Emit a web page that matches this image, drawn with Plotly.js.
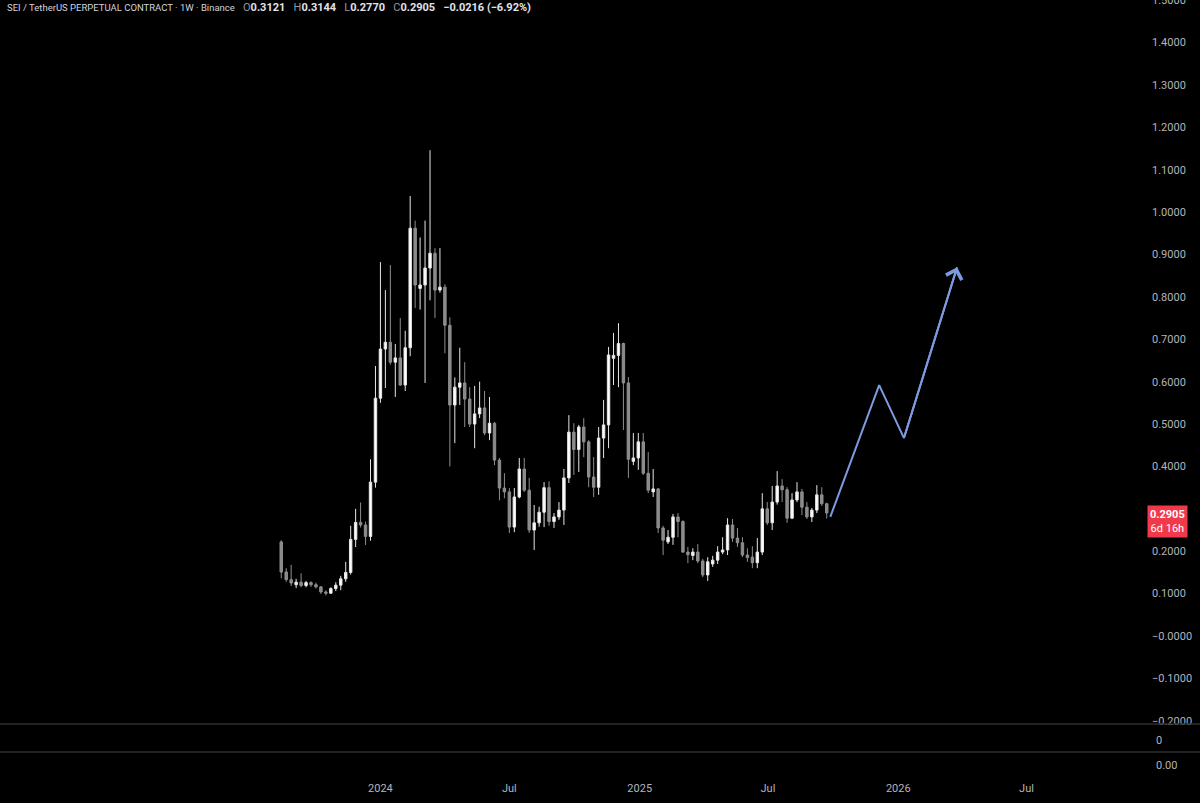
<!DOCTYPE html>
<html>
<head>
<meta charset="utf-8">
<script src="https://cdn.plot.ly/plotly-3.0.1.min.js"></script>
<style>
  html, body { margin: 0; padding: 0; background: #000000; }
  #chart { width: 1200px; height: 803px; }
</style>
</head>
<body>
<div id="chart"></div>
<script>
// ---- weekly candles (SEI/USDT perpetual, 1W) ----
const weeks = [
  '2023-08-14','2023-08-21','2023-08-28','2023-09-04','2023-09-11','2023-09-18','2023-09-25','2023-10-02','2023-10-09','2023-10-16',
  '2023-10-23','2023-10-30','2023-11-06','2023-11-13','2023-11-20','2023-11-27','2023-12-04','2023-12-11','2023-12-18','2023-12-25',
  '2024-01-01','2024-01-08','2024-01-15','2024-01-22','2024-01-29','2024-02-05','2024-02-12','2024-02-19','2024-02-26','2024-03-04',
  '2024-03-11','2024-03-18','2024-03-25','2024-04-01','2024-04-08','2024-04-15','2024-04-22','2024-04-29','2024-05-06','2024-05-13',
  '2024-05-20','2024-05-27','2024-06-03','2024-06-10','2024-06-17','2024-06-24','2024-07-01','2024-07-08','2024-07-15','2024-07-22',
  '2024-07-29','2024-08-05','2024-08-12','2024-08-19','2024-08-26','2024-09-02','2024-09-09','2024-09-16','2024-09-23','2024-09-30',
  '2024-10-07','2024-10-14','2024-10-21','2024-10-28','2024-11-04','2024-11-11','2024-11-18','2024-11-25','2024-12-02','2024-12-09',
  '2024-12-16','2024-12-23','2024-12-30','2025-01-06','2025-01-13','2025-01-20','2025-01-27','2025-02-03','2025-02-10','2025-02-17',
  '2025-02-24','2025-03-03','2025-03-10','2025-03-17','2025-03-24','2025-03-31','2025-04-07','2025-04-14','2025-04-21','2025-04-28',
  '2025-05-05','2025-05-12','2025-05-19','2025-05-26','2025-06-02','2025-06-09','2025-06-16','2025-06-23','2025-06-30','2025-07-07',
  '2025-07-14','2025-07-21','2025-07-28','2025-08-04','2025-08-11','2025-08-18','2025-08-25','2025-09-01','2025-09-08','2025-09-15',
  '2025-09-22'
];
const opens = [
  0.222,0.151,0.133,0.121,0.127,0.119,0.126,0.121,0.116,0.104,
  0.101,0.112,0.120,0.135,0.150,0.228,0.268,0.262,0.235,0.363,
  0.561,0.677,0.693,0.646,0.656,0.592,0.680,0.962,0.820,0.828,
  0.868,0.903,0.816,0.823,0.733,0.545,0.587,0.597,0.559,0.500,
  0.524,0.538,0.479,0.502,0.415,0.349,0.340,0.257,0.328,0.394,
  0.344,0.250,0.267,0.292,0.350,0.270,0.281,0.297,0.373,0.481,
  0.440,0.493,0.458,0.375,0.351,0.467,0.498,0.655,0.662,0.690,
  0.597,0.412,0.420,0.458,0.384,0.340,0.347,0.255,0.222,0.233,
  0.281,0.270,0.198,0.190,0.198,0.177,0.144,0.170,0.179,0.198,
  0.203,0.262,0.231,0.220,0.191,0.186,0.173,0.198,0.300,0.267,
  0.316,0.354,0.345,0.278,0.321,0.340,0.304,0.281,0.297,0.333,
  0.3121
];
const highs = [
  0.226,0.160,0.168,0.135,0.148,0.130,0.129,0.126,0.117,0.108,
  0.115,0.127,0.142,0.175,0.260,0.300,0.315,0.270,0.417,0.637,
  0.882,0.816,0.875,0.689,0.750,0.720,1.038,0.980,0.940,0.980,
  1.146,0.915,0.915,0.830,0.752,0.610,0.680,0.646,0.587,0.590,
  0.600,0.578,0.564,0.505,0.420,0.384,0.349,0.349,0.420,0.420,
  0.373,0.309,0.305,0.363,0.365,0.290,0.316,0.394,0.521,0.502,
  0.498,0.514,0.462,0.422,0.493,0.557,0.682,0.715,0.738,0.692,
  0.611,0.479,0.479,0.479,0.434,0.394,0.349,0.260,0.250,0.288,
  0.290,0.273,0.210,0.207,0.217,0.182,0.186,0.189,0.212,0.233,
  0.278,0.276,0.255,0.233,0.207,0.212,0.231,0.337,0.316,0.354,
  0.389,0.370,0.351,0.337,0.363,0.347,0.316,0.302,0.356,0.351,
  0.3144
];
const lows = [
  0.136,0.128,0.118,0.113,0.115,0.115,0.116,0.112,0.099,0.096,
  0.100,0.106,0.108,0.128,0.145,0.210,0.256,0.215,0.225,0.350,
  0.550,0.585,0.640,0.564,0.590,0.578,0.660,0.774,0.770,0.597,
  0.792,0.750,0.810,0.667,0.400,0.455,0.545,0.493,0.493,0.443,
  0.514,0.474,0.462,0.403,0.320,0.325,0.243,0.245,0.325,0.340,
  0.243,0.203,0.258,0.257,0.260,0.255,0.274,0.262,0.361,0.380,
  0.387,0.422,0.351,0.328,0.333,0.420,0.443,0.592,0.587,0.486,
  0.373,0.403,0.392,0.380,0.337,0.328,0.243,0.191,0.217,0.215,
  0.233,0.196,0.172,0.179,0.172,0.139,0.130,0.163,0.170,0.193,
  0.191,0.222,0.210,0.186,0.175,0.160,0.160,0.191,0.262,0.250,
  0.310,0.316,0.267,0.276,0.316,0.285,0.276,0.269,0.290,0.307,
  0.2770
];
const closes = [
  0.151,0.133,0.125,0.127,0.119,0.126,0.121,0.116,0.104,0.101,
  0.112,0.120,0.135,0.150,0.228,0.268,0.262,0.235,0.363,0.561,
  0.677,0.693,0.646,0.656,0.592,0.680,0.962,0.828,0.828,0.868,
  0.903,0.816,0.823,0.733,0.545,0.587,0.597,0.559,0.500,0.524,
  0.538,0.479,0.502,0.415,0.349,0.340,0.257,0.328,0.394,0.344,
  0.250,0.267,0.292,0.350,0.270,0.281,0.297,0.373,0.481,0.440,
  0.493,0.458,0.375,0.351,0.467,0.498,0.663,0.662,0.690,0.597,
  0.417,0.420,0.458,0.384,0.344,0.347,0.255,0.226,0.233,0.281,
  0.270,0.198,0.192,0.198,0.177,0.144,0.175,0.179,0.198,0.203,
  0.262,0.231,0.220,0.191,0.185,0.173,0.198,0.300,0.267,0.316,
  0.354,0.345,0.278,0.321,0.340,0.304,0.281,0.297,0.333,0.3121,
  0.2905
];

// ---- projected path (drawn arrow) ----
const pathDates  = ['2025-09-27','2025-12-05','2026-01-09','2026-03-25'];
const pathPrices = [0.281, 0.592, 0.467, 0.870];

// ---- axis ticks (0.3000 sits under the last-price label) ----
const yTickVals = [-0.2,-0.1,0,0.1,0.2,0.4,0.5,0.6,0.7,0.8,0.9,1.0,1.1,1.2,1.3,1.4,1.5];
const yTickText = ['\u22120.2000','\u22120.1000','\u22120.0000','0.1000','0.2000','0.4000','0.5000','0.6000',
                   '0.7000','0.8000','0.9000','1.0000','1.1000','1.2000','1.3000','1.4000','1.5000'];
const xTickVals = ['2024-01-01','2024-07-01','2025-01-01','2025-07-01','2026-01-01','2026-07-01'];
const xTickText = ['2024','Jul','2025','Jul','2026','Jul'];

// ---- header values ----
const symbolTitle = 'SEI / TetherUS PERPETUAL CONTRACT \u00b7 1W \u00b7 Binance';
const last = { o: '0.3121', h: '0.3144', l: '0.2770', c: '0.2905', chg: '\u22120.0216 (\u22126.92%)' };
const countdown = '6d 16h';

const FONT = 'Roboto, "Noto Sans", Arial, sans-serif';
const W = 1200, H = 803, PLOT_W = 1142, MB = 23;
const plotH = H - MB;
const mainBottom = (plotH - 724) / plotH;
const pane2Bottom = (plotH - 752) / plotH;

const candles = {
  type: 'candlestick',
  x: weeks, open: opens, high: highs, low: lows, close: closes,
  increasing: { line: { color: '#e6e6e6', width: 1 }, fillcolor: '#ffffff' },
  decreasing: { line: { color: '#8f8f8f', width: 1 }, fillcolor: '#8a8a8a' },
  whiskerwidth: 0,
  hoverinfo: 'skip',
  showlegend: false
};

const path = {
  type: 'scatter', mode: 'lines',
  x: pathDates, y: pathPrices,
  line: { color: '#7d9be0', width: 2 },
  hoverinfo: 'skip', showlegend: false
};

const sp = '\u00a0';
const lbl = s => '<span style="color:#9598a1;font-size:11px">' + s + '</span>';
const val = s => '<b><span style="color:#e0e3eb;font-size:11px">' + s + '</span></b>';
const headerText = '<span style="color:#d1d4dc;font-size:9.5px">' + symbolTitle + '</span>' + sp + sp + sp +
  lbl('O') + val(last.o) + sp + sp + sp + lbl('H') + val(last.h) + sp + sp + sp +
  lbl('L') + val(last.l) + sp + sp + sp + lbl('C') + val(last.c) + sp + sp + sp + val(last.chg);

const layout = {
  width: W, height: H,
  paper_bgcolor: '#000000', plot_bgcolor: '#000000',
  margin: { l: 0, r: W - PLOT_W, t: 0, b: MB, pad: 0 },
  showlegend: false,
  hovermode: false,
  font: { family: FONT, color: '#b2b5be', size: 11 },
  xaxis: {
    type: 'date',
    range: ['2022-07-13', '2026-12-11'],
    anchor: 'free', position: 0,
    showgrid: false, zeroline: false, showline: false,
    ticks: '', tickvals: xTickVals, ticktext: xTickText,
    tickfont: { family: FONT, size: 11, color: '#b2b5be' },
    rangeslider: { visible: false },
    fixedrange: true
  },
  yaxis: {
    domain: [mainBottom, 1],
    range: [-0.2075, 1.5003],
    side: 'right',
    showgrid: false, zeroline: false, showline: false,
    ticks: '', ticklabelstandoff: 9,
    ticklabeloverflow: 'allow',
    tickvals: yTickVals, ticktext: yTickText,
    tickfont: { family: FONT, size: 11, color: '#b2b5be' },
    fixedrange: true
  },
  shapes: [
    { type: 'line', xref: 'paper', yref: 'paper', x0: 0, x1: W / PLOT_W, y0: mainBottom, y1: mainBottom,
      line: { color: '#2e2e2e', width: 1.5 } },
    { type: 'line', xref: 'paper', yref: 'paper', x0: 0, x1: W / PLOT_W, y0: pane2Bottom, y1: pane2Bottom,
      line: { color: '#2e2e2e', width: 1.5 } }
  ],
  annotations: [
    { xref: 'paper', yref: 'paper', x: 5 / PLOT_W, y: 1 - 8 / plotH, xanchor: 'left', yanchor: 'middle',
      text: headerText, showarrow: false, font: { family: FONT, size: 11, color: '#d1d4dc' }, align: 'left' },
    { xref: 'paper', yref: 'y', x: 1147 / PLOT_W, y: 0.2905, xanchor: 'left', yanchor: 'top', yshift: 8,
      text: '<b>' + last.c + '</b><br>' + countdown, showarrow: false, align: 'center',
      bgcolor: '#f0394a', borderpad: 2, font: { family: FONT, size: 11, color: '#ffffff' } },
    { xref: 'paper', yref: 'paper', x: 1154 / PLOT_W, y: (plotH - 740) / plotH, xanchor: 'left', yanchor: 'middle',
      text: '0', showarrow: false, font: { family: FONT, size: 11, color: '#b2b5be' } },
    { xref: 'paper', yref: 'paper', x: 1154 / PLOT_W, y: (plotH - 765) / plotH, xanchor: 'left', yanchor: 'middle',
      text: '0.00', showarrow: false, font: { family: FONT, size: 11, color: '#b2b5be' } },
    { xref: 'x', yref: 'y', axref: 'x', ayref: 'y',
      x: pathDates[3], y: pathPrices[3], ax: pathDates[2], ay: pathPrices[2],
      text: '', showarrow: true, arrowhead: 4, arrowsize: 1.6, arrowwidth: 2, arrowcolor: '#7d9be0', standoff: 0 }
  ]
};

Plotly.newPlot('chart', [candles, path], layout, { displayModeBar: false, staticPlot: true });
</script>
</body>
</html>
